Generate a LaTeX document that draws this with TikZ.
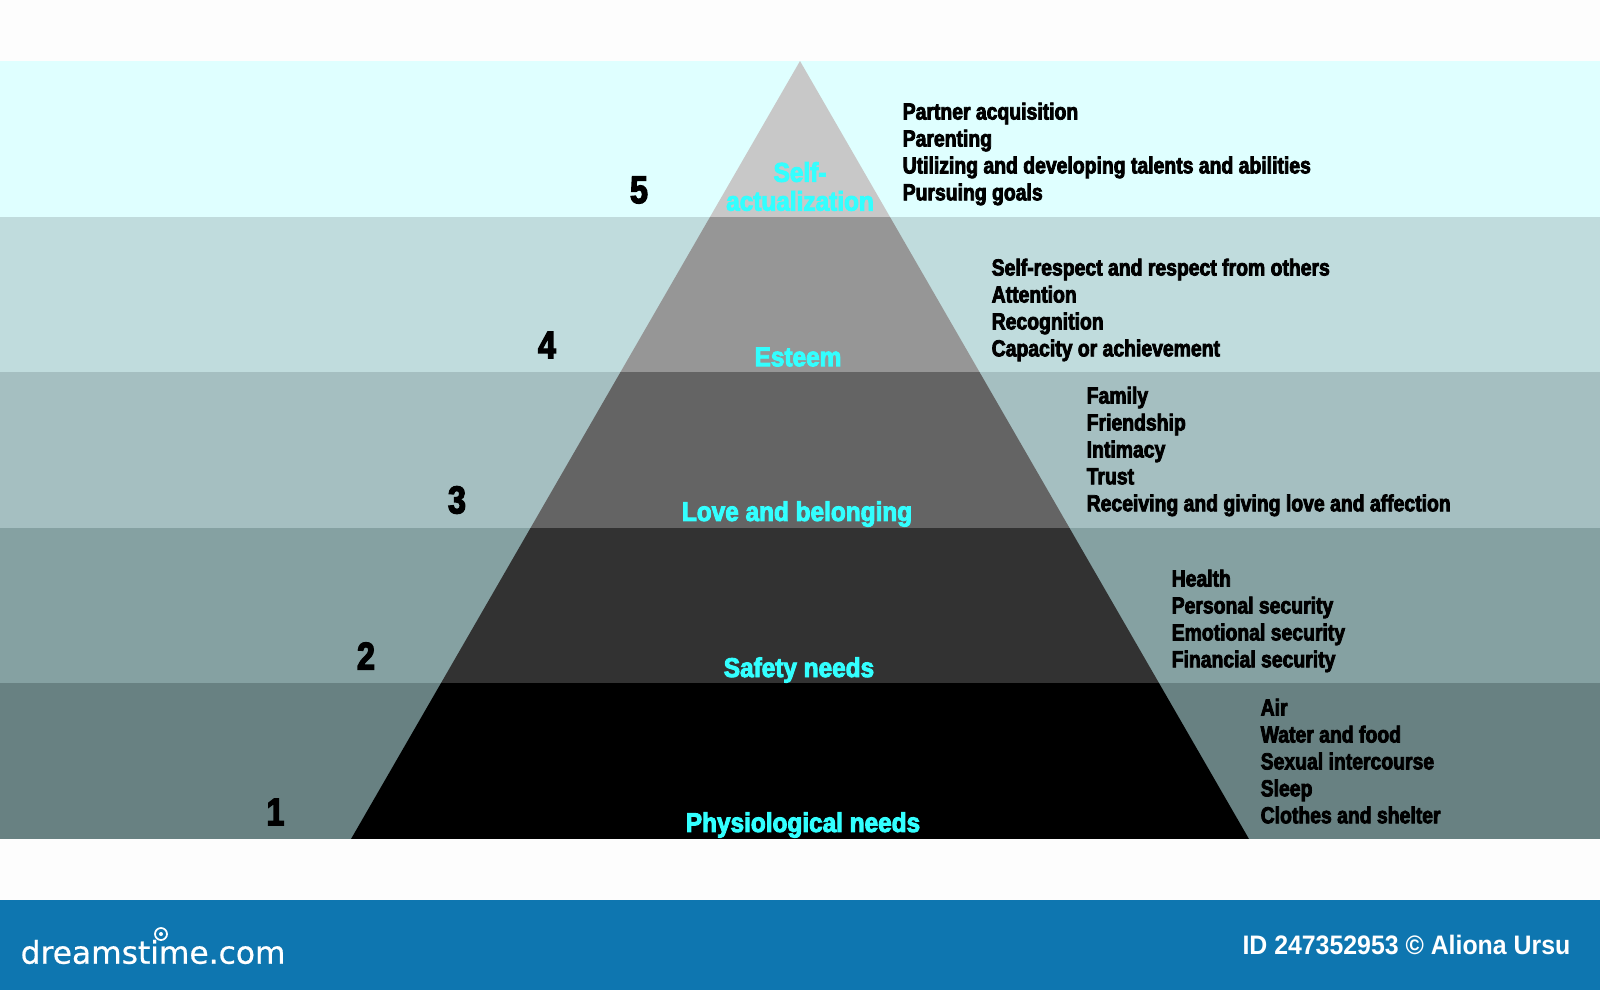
\documentclass[tikz,border=0pt]{standalone}
\usepackage{fontspec}
\usepackage{xcolor}
\usetikzlibrary{positioning}
\newfontfamily\heavyfont[FakeStretch=0.835,FakeBold=3.4]{Liberation Sans Bold}
\newfontfamily\widefont[FakeStretch=0.90,FakeBold=3.4]{Liberation Sans Bold}
\newfontfamily\footfont[FakeStretch=0.93]{Liberation Sans}
\newfontfamily\logofont[FakeBold=0.6]{DejaVu Sans}
\definecolor{bandA}{HTML}{DFFFFF}
\definecolor{bandB}{HTML}{C0DCDD}
\definecolor{bandC}{HTML}{A5BFC1}
\definecolor{bandD}{HTML}{85A1A2}
\definecolor{bandE}{HTML}{688182}
\definecolor{tierA}{HTML}{C8C8C8}
\definecolor{tierB}{HTML}{969696}
\definecolor{tierC}{HTML}{646464}
\definecolor{tierD}{HTML}{323232}
\definecolor{footblue}{HTML}{0E76B0}
\definecolor{tiercyan}{HTML}{33FFFF}
\definecolor{offwhite}{HTML}{FDFDFD}
\tikzset{needlist/.style={align=left,anchor=north west,inner sep=0pt,text=black,
           font=\heavyfont\fontsize{6.6pt}{7.66pt}\selectfont},
         tierlabel/.style={align=center,inner sep=0pt,text=tiercyan,
           font=\widefont\fontsize{7.7pt}{7.8pt}\selectfont},
         tiernum/.style={inner sep=0pt,text=black,
           font=\heavyfont\fontsize{11pt}{11pt}\selectfont}
        }
\begin{document}
\begin{tikzpicture}[x=0.01cm,y=-0.01cm]
\useasboundingbox (0,0) rectangle (1600,990);

%background bands
\fill[offwhite] (0,0) rectangle (1600,990);
\fill[bandA] (0,61) rectangle (1600,216.5);
\fill[bandB] (0,216.5) rectangle (1600,372);
\fill[bandC] (0,372) rectangle (1600,527.5);
\fill[bandD] (0,527.5) rectangle (1600,683);
\fill[bandE] (0,683) rectangle (1600,839);
\fill[footblue] (0,900) rectangle (1600,990);

%pyramid
\coordinate (apex) at (800,61);
\coordinate (baseleft) at (351,839);
\coordinate (baseright) at (1249,839);
\begin{scope}
\clip (apex) -- (baseright) -- (baseleft) -- cycle;
\fill[tierA] (300,61) rectangle (1300,216.5);
\fill[tierB] (300,216.5) rectangle (1300,372);
\fill[tierC] (300,372) rectangle (1300,527.5);
\fill[tierD] (300,527.5) rectangle (1300,683);
\fill[black] (300,683) rectangle (1300,839);
\end{scope}

%tier names
\node[tierlabel] (selfact) at (800,186.5) {Self-\\[0.4pt]actualization};
\node[tierlabel] (esteem) at (798,357) {Esteem};
\node[tierlabel] (love) at (797,514) {Love and belonging};
\node[tierlabel] (safety) at (799,670) {Safety needs};
\node[tierlabel] (physio) at (803,825) {Physiological needs};

%numbers
\node[tiernum] (five) at (639,190) {5};
\node[tiernum] (four) at (547,345) {4};
\node[tiernum] (three) at (457,500) {3};
\node[tiernum] (two) at (366,656) {2};
\node[tiernum] (one) at (275.5,812) {1};

%lists
\node[needlist] (listfive) at (902,102) {Partner acquisition\\Parenting\\Utilizing and developing talents and abilities\\Pursuing goals};
\node[needlist] (listfour) at (991,258) {Self-respect and respect from others\\Attention\\Recognition\\Capacity or achievement};
\node[needlist] (listthree) at (1086,386) {Family\\Friendship\\Intimacy\\Trust\\Receiving and giving love and affection};
\node[needlist] (listtwo) at (1171,569) {Health\\Personal security\\Emotional security\\Financial security};
\node[needlist] (listone) at (1260,698) {Air\\Water and food\\Sexual intercourse\\Sleep\\Clothes and shelter};

%footer
\node[inner sep=0pt,anchor=west,text=white,font=\logofont\fontsize{8.9pt}{10pt}\selectfont] (logo) at (20,952) {dreamstime.com};
\draw[white,line width=0.5pt] (161,934) circle (6);
\fill[white] (161,934) circle (2);
\node[inner sep=0pt,anchor=east,text=white,font=\footfont\bfseries\fontsize{7.6pt}{8pt}\selectfont] (credit) at (1571,945) {ID 247352953 © Aliona Ursu};

\end{tikzpicture}
\end{document}
